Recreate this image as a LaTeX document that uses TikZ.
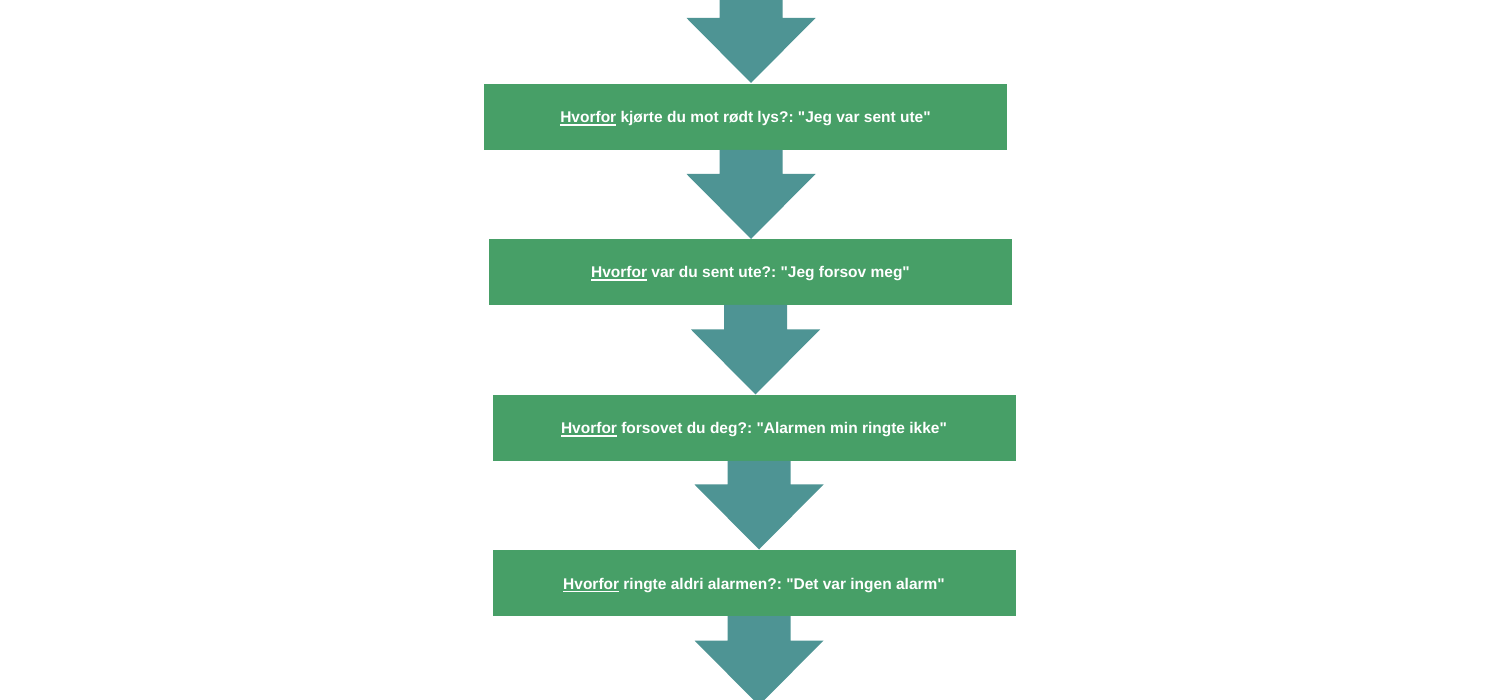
\documentclass[tikz,border=0pt]{standalone}
\usepackage{fontspec}
\setmainfont{Liberation Sans}[Ligatures=TeXOff]
\usetikzlibrary{calc}
\definecolor{boxgreen}{HTML}{479F67}
\definecolor{arrowteal}{HTML}{4E9494}
\frenchspacing
\newcommand\hvUL[1]{\setbox0\hbox{#1}\rlap{\color{white}\rule[-2.8pt]{\wd0}{1.3pt}}\box0\relax}
\newcommand\bArrow[2]{\fill[arrowteal] let \p1=(#1), \p2=(#2) in
  (\x2-31.5pt,\y1) -- (\x2+31.5pt,\y1) -- (\x2+31.5pt,\y2+65pt) -- (\x2+64.5pt,\y2+65pt)
  -- (\x2,\y2) -- (\x2-64.5pt,\y2+65pt) -- (\x2-31.5pt,\y2+65pt) -- cycle;}
\begin{document}
\begin{tikzpicture}[x=1pt,y=-1pt,
  whybox/.style={fill=boxgreen, draw=none, minimum width=523pt, minimum height=66pt,
    inner sep=0pt, outer sep=0pt, text=white, text height=12pt, text depth=0pt,
    font=\fontsize{15.5}{18}\selectfont\bfseries}]
\useasboundingbox[fill=white] (0,0) rectangle (1500,700);
\node[whybox] (b1) at (745.5,117) {\hvUL{Hvorfor} kjørte du mot rødt lys?: "Jeg var sent ute"};
\node[whybox] (b2) at (750.5,272) {\hvUL{Hvorfor} var du sent ute?: "Jeg forsov meg"};
\node[whybox] (b3) at (754,428) {\hvUL{Hvorfor} forsovet du deg?: "Alarmen min ringte ikke"};
\node[whybox] (b4) at (754,583) {\hvUL{Hvorfor} ringte aldri alarmen?: "Det var ingen alarm"};
\coordinate (top) at (751,-5);
\coordinate (t1) at (751,83);
\coordinate (s2) at (751,150);
\coordinate (t2) at (751,239);
\coordinate (s3) at (755.5,305);
\coordinate (t3) at (755.5,394.5);
\coordinate (s4) at (759,461);
\coordinate (t4) at (759,549.5);
\coordinate (s5) at (759,616);
\coordinate (t5) at (759,705.5);
\bArrow{top}{t1}
\bArrow{s2}{t2}
\bArrow{s3}{t3}
\bArrow{s4}{t4}
\bArrow{s5}{t5}
\end{tikzpicture}
\end{document}
